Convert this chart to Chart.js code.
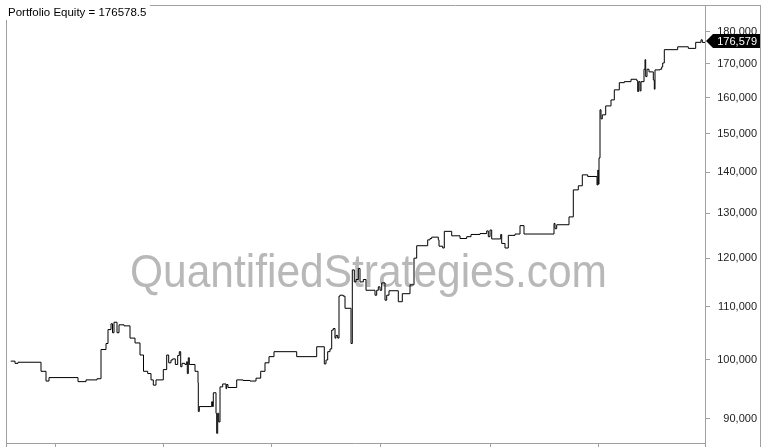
<!DOCTYPE html>
<html>
<head>
<meta charset="utf-8">
<script src="https://cdn.jsdelivr.net/npm/chart.js@4"></script>
<style>
  html, body { margin: 0; padding: 0; background: #fff; }
  canvas { display: block; }
</style>
</head>
<body>
<canvas id="equityChart" width="768" height="447"></canvas>
<script>
// equity curve (x = bar number, y = equity)
const bars = [4.7, 9, 12, 35, 40, 43, 72, 80, 91, 95,
  100, 102, 105, 106.5, 108, 111, 113, 118, 124, 129,
  134, 137.5, 141.7, 145, 147.3, 150, 157.3, 160.7, 162.7, 165,
  166.7, 169.3, 171.7, 173.3, 174.7, 176, 179, 180.7, 181.3, 182.3,
  183.3, 189, 192, 192.3, 193.3, 205.7, 206.5, 207.3, 210, 210.7,
  211.7, 212.7, 214, 216.7, 220, 220.7, 222, 230.7, 237, 244,
  250, 254.7, 259, 263, 268, 290.7, 310.7, 318.3, 320, 321.7,
  324, 325.7, 327.3, 329, 330, 331.7, 333, 334, 337.3, 339,
  345, 346.3, 348.3, 350, 352.3, 354, 357.3, 360, 369, 370.7,
  372.3, 374, 375.7, 379, 380.7, 383, 392.3, 396.3, 404, 408,
  410.7, 421.7, 424, 425.7, 432.3, 433, 436.7, 438.3, 445.7, 454,
  460.7, 465, 474, 480.7, 482.3, 484, 485.7, 494.7, 495.7, 499,
  502.3, 509, 514, 518, 548, 549, 550.7, 563, 567.3, 572.3,
  576.3, 581.7, 591, 591.8, 592.3, 593, 594, 595, 596.3, 599.7,
  605, 608.3, 613.3, 618.3, 625, 630.7, 631.7, 632.7, 634, 635,
  638, 639, 639.7, 641, 643, 647.3, 648.3, 649, 654, 655.7,
  656.7, 658.3, 671.7, 682.3, 689.7, 695, 696.3, 699];

const equity = [99800, 99400, 99600, 98000, 96300, 96900, 96200, 96500, 96700, 101900,
  103000, 105600, 106700, 105000, 107000, 105000, 106500, 106300, 104000, 103100,
  100900, 98000, 97600, 96500, 95600, 96500, 98300, 100900, 99500, 100000,
  100200, 99200, 100800, 101500, 98800, 99400, 99200, 99700, 97600, 100400,
  99200, 98000, 96000, 91200, 92000, 92800, 92000, 94300, 90900, 87700,
  90900, 89500, 95300, 95800, 95000, 95700, 95200, 96500, 96400, 96300,
  96800, 98000, 99500, 100600, 101500, 100600, 102400, 99300, 100000, 101500,
  102000, 105500, 105800, 104000, 104500, 104000, 112100, 112300, 112100, 109700,
  103000, 117500, 115000, 115500, 117800, 115000, 115500, 113300, 112300, 113300,
  114000, 113300, 114800, 111300, 112300, 113200, 111000, 112600, 114400, 120000,
  122700, 124000, 124300, 124600, 124000, 122600, 122200, 125900, 124900, 124300,
  124700, 125200, 125400, 126000, 124700, 126200, 124200, 125200, 123200, 122200,
  125000, 125300, 127200, 125300, 127700, 126500, 127400, 129200, 135600, 136600,
  139300, 138900, 136800, 140500, 137000, 143600, 156500, 154000, 155100, 157600,
  159300, 162200, 164300, 164600, 165300, 164900, 161700, 164600, 161900, 164600,
  168300, 171200, 166100, 168300, 167500, 165100, 162400, 168100, 168300, 169000,
  170200, 174300, 175200, 174700, 176600, 177400, 176579, 176578.5];

const yTicks = [90000, 100000, 110000, 120000, 130000, 140000, 150000, 160000, 170000, 180000];
const xTicks = [49, 157, 265, 374, 484, 592]; // year boundaries on the time axis

const title = "Portfolio Equity = 176578.5";
const watermark = "QuantifiedStrategies.com";
const lastValue = equity[equity.length - 1];

const points = bars.map((b, i) => ({ x: b, y: equity[i] }));

// frame, time ticks, title, last-value tag and watermark
const decor = {
  id: "decor",
  beforeDatasetsDraw(chart) {
    const { ctx } = chart;
    ctx.save();
    ctx.font = "46px 'Liberation Sans', Arial, sans-serif";
    ctx.fillStyle = "#b8b8b8";
    ctx.textBaseline = "alphabetic";
    const w = ctx.measureText(watermark).width;
    ctx.translate(368.5, 287);
    ctx.scale(477 / w, 1);
    ctx.textAlign = "center";
    ctx.fillText(watermark, 0, 0);
    ctx.restore();
  },
  afterDraw(chart) {
    const { ctx, chartArea: a, scales } = chart;
    const H = chart.height;
    ctx.save();
    ctx.strokeStyle = "#a0a0a0";
    ctx.lineWidth = 1;
    ctx.beginPath();
    // left edge (starts below the title)
    ctx.moveTo(a.left + 0.5, 20); ctx.lineTo(a.left + 0.5, H);
    // bottom edge
    ctx.moveTo(a.left, a.bottom + 0.5); ctx.lineTo(a.right, a.bottom + 0.5);
    // plot / axis separator
    ctx.moveTo(a.right + 0.5, a.top); ctx.lineTo(a.right + 0.5, H);
    // outer right edge of the price axis
    ctx.moveTo(760.5, a.top); ctx.lineTo(760.5, H);
    // top edge
    ctx.moveTo(150, a.top + 0.5); ctx.lineTo(761, a.top + 0.5);
    // time ticks under the plot
    xTicks.forEach(t => {
      const px = Math.round(scales.x.getPixelForValue(t)) + 0.5;
      ctx.moveTo(px, a.bottom); ctx.lineTo(px, H);
    });
    ctx.stroke();

    // title
    ctx.fillStyle = "#000";
    ctx.font = "11.5px 'Liberation Sans', Arial, sans-serif";
    ctx.textAlign = "left";
    ctx.textBaseline = "alphabetic";
    ctx.fillText(title, 8, 16);

    // last value tag on the price axis
    const y = Math.round(scales.y.getPixelForValue(lastValue)) - 1;
    const x0 = a.right + 1;
    ctx.fillStyle = "#000";
    ctx.beginPath();
    ctx.moveTo(x0, y);
    ctx.lineTo(x0 + 7, y - 7);
    ctx.lineTo(760, y - 7);
    ctx.lineTo(760, y + 7);
    ctx.lineTo(x0 + 7, y + 7);
    ctx.closePath();
    ctx.fill();
    ctx.fillStyle = "#fff";
    ctx.font = "11px 'Liberation Sans', Arial, sans-serif";
    ctx.textAlign = "right";
    ctx.textBaseline = "middle";
    ctx.fillText(Math.round(lastValue).toLocaleString("en-US"), 757, y + 0.5);
    ctx.restore();
  }
};

new Chart(document.getElementById("equityChart"), {
  type: "line",
  data: {
    datasets: [{
      label: "Portfolio Equity",
      data: points,
      stepped: true,
      borderColor: "#000",
      borderWidth: 1,
      pointRadius: 0,
      fill: false
    }]
  },
  options: {
    responsive: false,
    animation: false,
    layout: { padding: { left: 6, right: 11, top: 5, bottom: 4 } },
    plugins: {
      legend: { display: false },
      tooltip: { enabled: false }
    },
    scales: {
      x: {
        type: "linear",
        min: 0,
        max: 699,
        display: false
      },
      y: {
        type: "logarithmic",
        position: "right",
        min: 86191,
        max: 188810,
        afterBuildTicks: scale => {
          scale.ticks = yTicks.map(v => ({ value: v }));
        },
        afterFit: scale => {
          scale.width = 52;
          scale.paddingTop = 0;
          scale.paddingBottom = 0;
        },
        border: { display: false },
        grid: {
          drawOnChartArea: false,
          drawTicks: true,
          tickLength: 5,
          color: "#a0a0a0"
        },
        ticks: {
          padding: 1,
          crossAlign: "far",
          color: "#222",
          font: { family: "'Liberation Sans', Arial, sans-serif", size: 11 },
          callback: v => Number(v).toLocaleString("en-US")
        }
      }
    }
  },
  plugins: [decor]
});
</script>
</body>
</html>
